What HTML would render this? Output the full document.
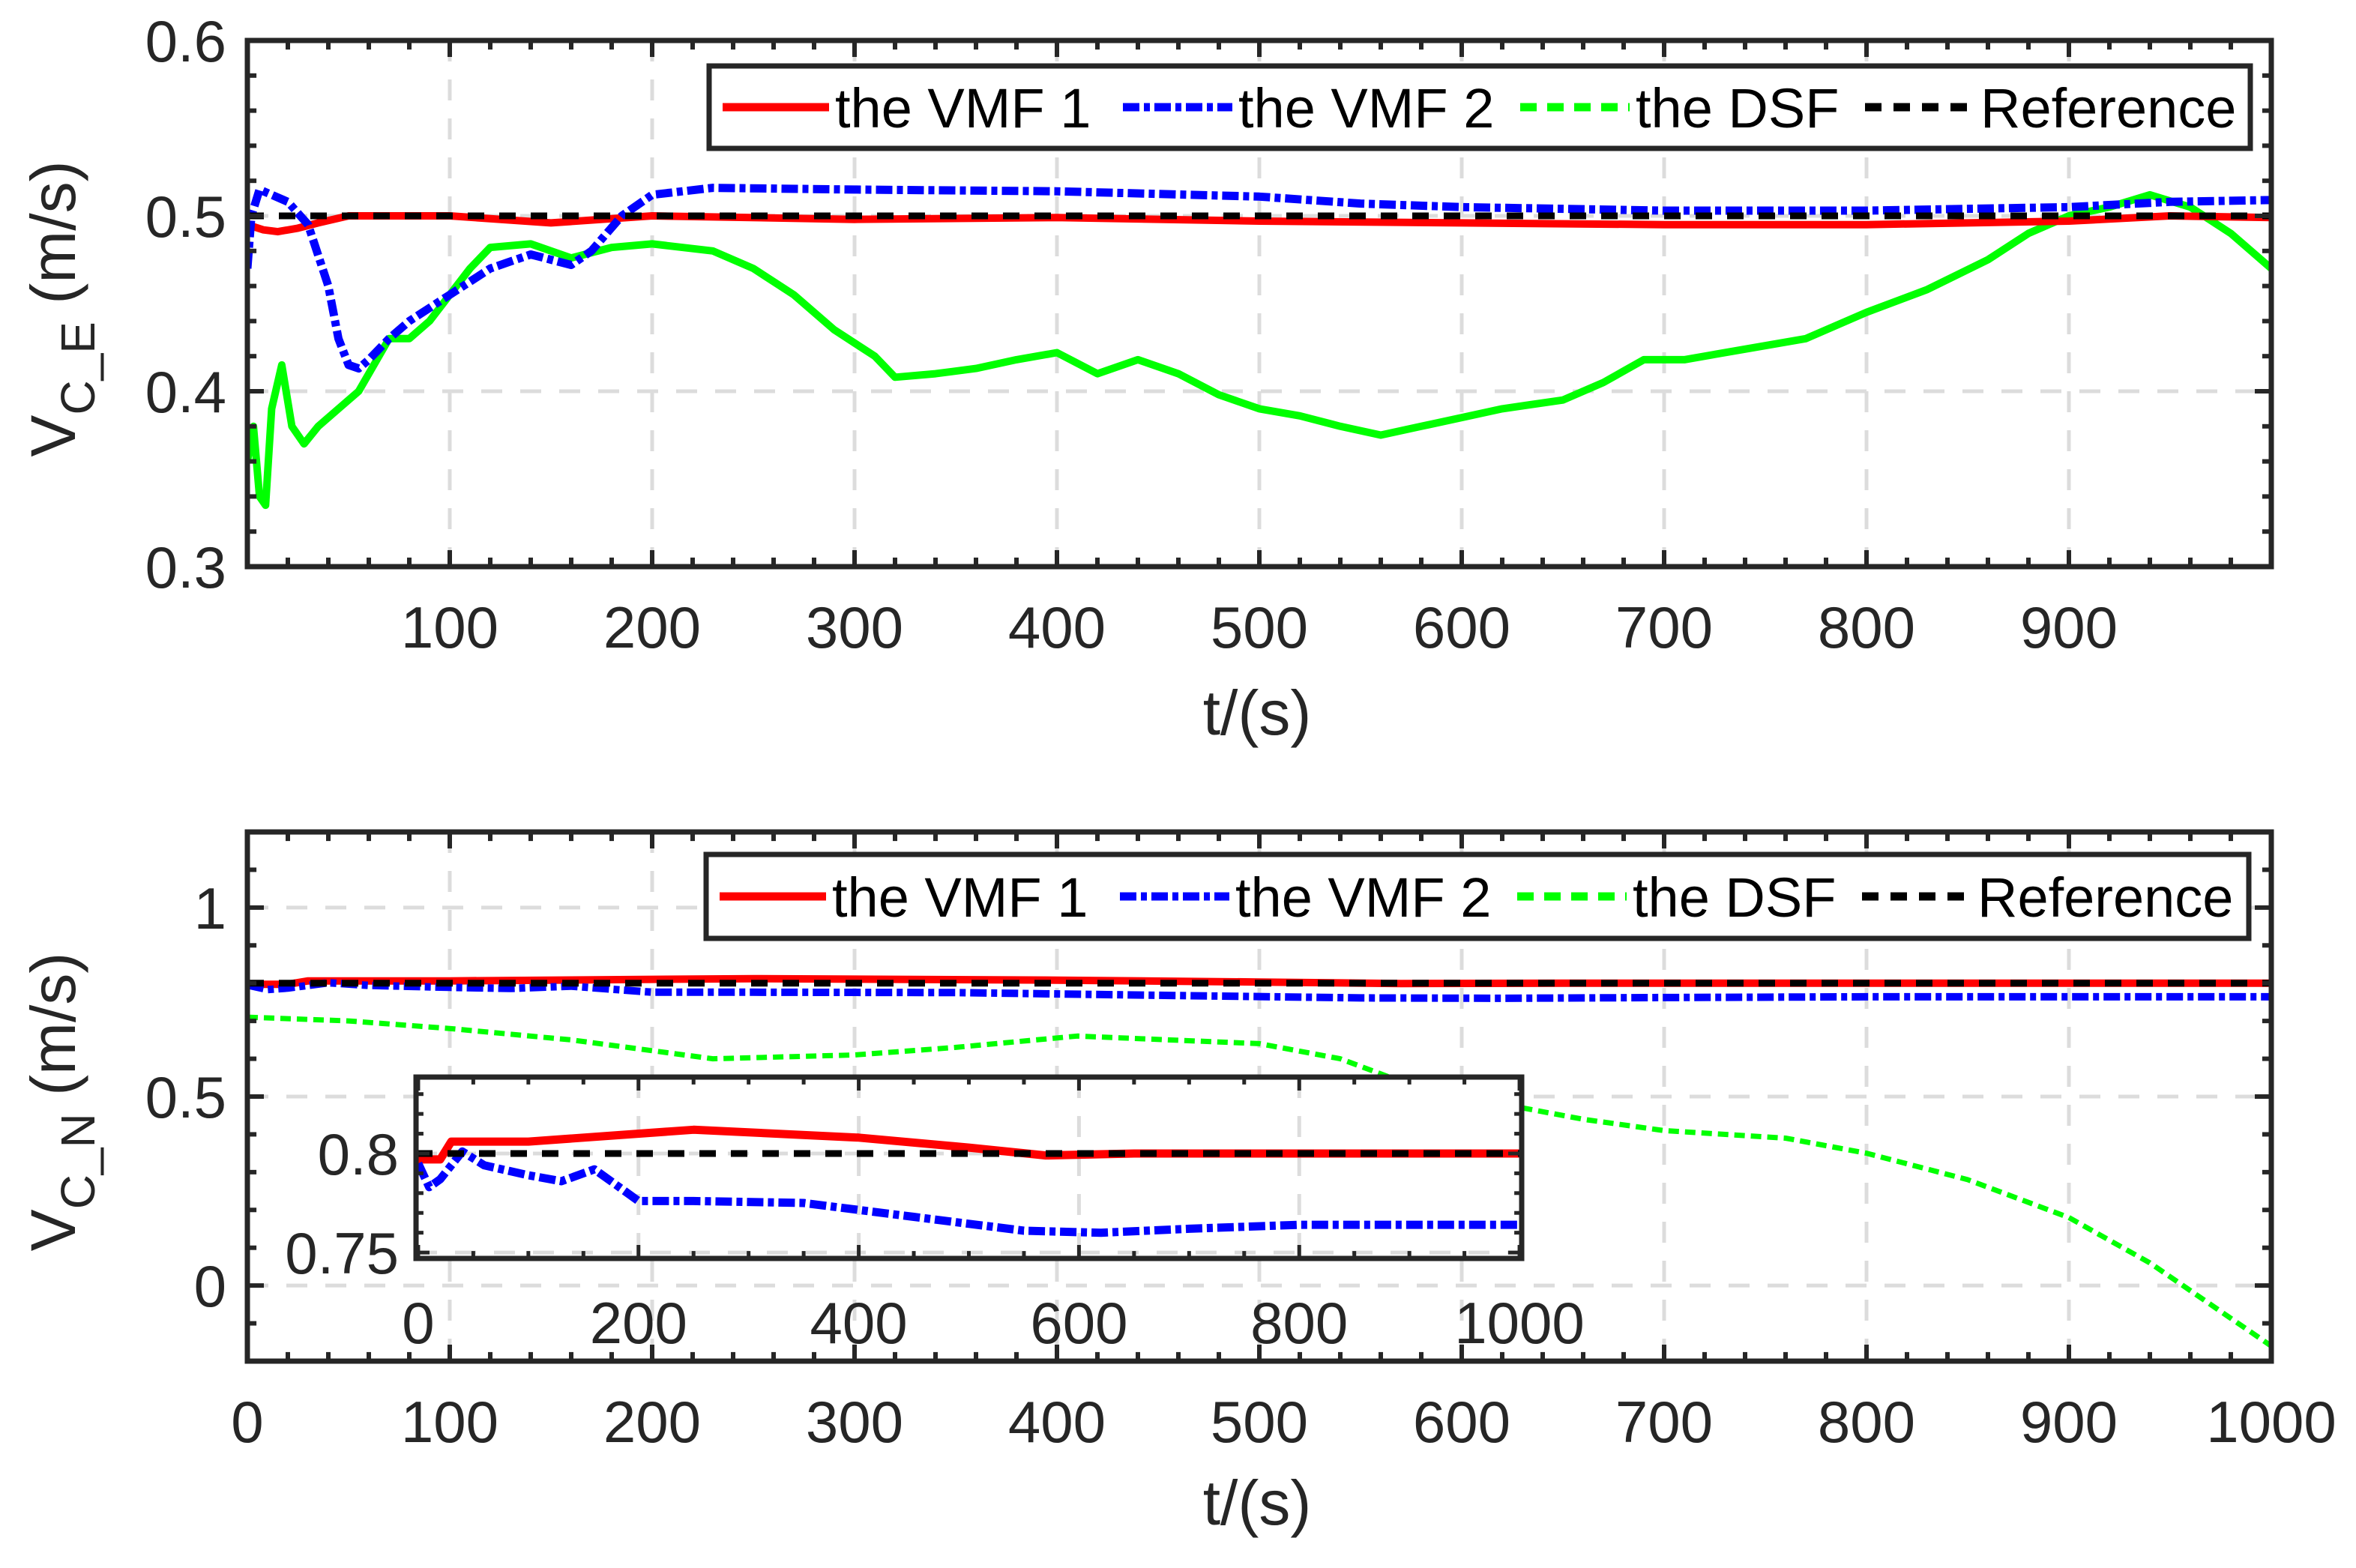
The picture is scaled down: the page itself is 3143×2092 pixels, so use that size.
<!DOCTYPE html>
<html><head><meta charset="utf-8"><style>
html,body{margin:0;padding:0;background:#fff;}
svg{display:block;font-family:"Liberation Sans",Arial,sans-serif;}
</style></head><body>
<svg id="fig" width="3143" height="2092" viewBox="0 0 3143 2092" xmlns="http://www.w3.org/2000/svg">
<rect x="0" y="0" width="3143" height="2092" fill="#fff"/>
</svg>
<script>
// ---------- data: top panel (V_C_E) ----------
const tTopRed=[0,8,15,25,35,50,100,150,200,300,400,500,600,700,800,900,950,1000];
const vTopRed=[0.495,0.492,0.491,0.493,0.496,0.5,0.5,0.496,0.5,0.498,0.499,0.497,0.496,0.495,0.495,0.497,0.5,0.499];
const tTopBlue=[0,2,6,12,20,30,40,45,50,55,60,70,80,100,120,140,150,160,170,185,200,230,300,400,500,550,600,700,800,900,950,1000];
const vTopBlue=[0.47,0.50,0.515,0.512,0.508,0.495,0.46,0.43,0.415,0.413,0.418,0.43,0.44,0.455,0.47,0.478,0.475,0.472,0.48,0.5,0.512,0.516,0.515,0.514,0.511,0.507,0.505,0.503,0.503,0.505,0.508,0.509];
const tTopGreen=[0,3,6,9,12,17,22,28,35,45,55,60,70,80,90,100,110,120,140,160,180,200,230,250,270,290,310,320,340,360,380,400,420,440,460,480,500,520,540,560,580,600,620,650,670,690,710,740,770,800,830,860,880,900,920,940,960,980,1000];
const vTopGreen=[0.36,0.38,0.34,0.335,0.39,0.415,0.38,0.37,0.38,0.39,0.40,0.41,0.43,0.43,0.44,0.455,0.47,0.482,0.484,0.476,0.482,0.484,0.48,0.47,0.455,0.435,0.42,0.408,0.41,0.413,0.418,0.422,0.41,0.418,0.41,0.398,0.39,0.386,0.38,0.375,0.38,0.385,0.39,0.395,0.405,0.418,0.418,0.424,0.43,0.445,0.458,0.475,0.49,0.5,0.505,0.512,0.505,0.49,0.47];
const refTop=0.5;
// ---------- data: bottom panel (V_C_N) ----------
const tBotRed=[0,20,30,50,100,250,400,500,570,650,1000];
const vBotRed=[0.797,0.797,0.806,0.806,0.806,0.812,0.808,0.803,0.799,0.8,0.8];
const tBotBlue=[0,10,20,40,60,100,130,160,180,200,250,350,450,550,620,700,800,1000];
const vBotBlue=[0.795,0.783,0.787,0.801,0.794,0.789,0.786,0.792,0.784,0.776,0.776,0.775,0.768,0.761,0.76,0.762,0.764,0.764];
const tBotGreen=[0,50,100,160,230,300,350,410,500,540,580,620,660,700,760,800,850,900,940,970,1000];
const vBotGreen=[0.71,0.70,0.68,0.65,0.60,0.61,0.63,0.66,0.64,0.60,0.52,0.48,0.44,0.41,0.39,0.35,0.28,0.18,0.06,-0.05,-0.16];
const refBot=0.8;
// ---------- ticks ----------
const topXTicks=[100,200,300,400,500,600,700,800,900];
const topYTicks=[0.3,0.4,0.5,0.6];
const botXTicks=[0,100,200,300,400,500,600,700,800,900,1000];
const botYTicks=[0,0.5,1];
const insetXTicks=[0,200,400,600,800,1000];
const insetYTicks=[0.75,0.8];
const legendLabels=["the VMF 1","the VMF 2","the DSF","Reference"];

const NS="http://www.w3.org/2000/svg";
const svg=document.getElementById('fig');
function mk(tag,attrs,parent){const e=document.createElementNS(NS,tag);for(const k in attrs)e.setAttribute(k,attrs[k]);(parent||svg).appendChild(e);return e;}
const AX="#262626",GRID="#dcdcdc";
const RED="#ff0000",BLUE="#0000ff",GREEN="#00ff00",BLACK="#000000";

function makeAxes(o){
  const sx=v=>o.x0+(v-o.xmin)/(o.xmax-o.xmin)*(o.x1-o.x0);
  const sy=v=>o.y1-(v-o.ymin)/(o.ymax-o.ymin)*(o.y1-o.y0);
  o.sx=sx;o.sy=sy;
  const g=mk('g',{});
  
  
  mk('rect',{x:o.x0,y:o.y0,width:o.x1-o.x0,height:o.y1-o.y0,fill:'#fff'},g);
  o.gridX.forEach(v=>{const l=mk('line',{x1:sx(v),x2:sx(v),y1:o.y0,y2:o.y1,stroke:GRID,'stroke-width':o.gw,'stroke-dasharray':o.gdash},g);
    });
  o.gridY.forEach(v=>{const l=mk('line',{x1:o.x0,x2:o.x1,y1:sy(v),y2:sy(v),stroke:GRID,'stroke-width':o.gw,'stroke-dasharray':o.gdash},g);
    });
  const cp=mk('clipPath',{id:o.name+'-clip'},g);
  mk('rect',{x:o.x0,y:o.y0,width:o.x1-o.x0,height:o.y1-o.y0},cp);
  o.plot=mk('g',{'clip-path':'url(#'+o.name+'-clip)'},g);
  o.g=g;
  return o;
}
function finishAxes(o){
  const g=o.g,sx=o.sx,sy=o.sy;
  const tk=mk('g',{stroke:AX,'stroke-width':o.tw},g);
  
  
  for(let v=o.xminTickStart;v<=o.xmax+1e-9;v+=o.xminor){
    const major=Math.abs(v/o.xmajor-Math.round(v/o.xmajor))<1e-6;const L=major?o.tl:o.tl*0.55;
    mk('line',{x1:sx(v),x2:sx(v),y1:o.y1,y2:o.y1-L},tk);mk('line',{x1:sx(v),x2:sx(v),y1:o.y0,y2:o.y0+L},tk);
  }
  for(let v=o.yminTickStart;v<=o.ymax+1e-9;v+=o.yminor){
    const major=Math.abs(v/o.ymajor-Math.round(v/o.ymajor))<1e-6;const L=major?o.tl:o.tl*0.55;
    mk('line',{x1:o.x0,x2:o.x0+L,y1:sy(v),y2:sy(v)},tk);mk('line',{x1:o.x1,x2:o.x1-L,y1:sy(v),y2:sy(v)},tk);
  }
  const fr=mk('rect',{x:o.x0,y:o.y0,width:o.x1-o.x0,height:o.y1-o.y0,fill:'none',stroke:AX,'stroke-width':o.fw},g);
  
  
  o.xTicks.forEach(v=>{const t=mk('text',{x:sx(v),y:o.xLabelY,'font-size':o.fs,'text-anchor':'middle',fill:AX},g);t.textContent=String(v);
    });
  o.yTicks.forEach(v=>{const t=mk('text',{x:o.yLabelX,y:sy(v)+o.fs*0.36,'font-size':o.fs,'text-anchor':'end',fill:AX},g);t.textContent=String(v);
    });
}
function series(o,ts,vs,color,w,dash,name){
  const d=ts.map((t,i)=>(i?'L':'M')+o.sx(t).toFixed(1)+' '+o.sy(vs[i]).toFixed(1)).join(' ');
  const p=mk('path',{d:d,fill:'none',stroke:color,'stroke-width':w,'stroke-linejoin':'round','stroke-dasharray':dash||'none'},o.plot);
  
  
}
function refLine(o,v,w,name){
  const p=mk('line',{x1:o.x0,x2:o.x1,y1:o.sy(v),y2:o.sy(v),stroke:BLACK,'stroke-width':w,'stroke-dasharray':'22 20'},o.plot);
  
  
}
function legend(x,y,w,h,name){
  const g=mk('g',{});
  
  
  mk('rect',{x:x,y:y,width:w,height:h,fill:'#fff',stroke:AX,'stroke-width':7},g);
  const cy=y+h/2;
  const items=[[RED,'none',x+18,x+160],[BLUE,'22 6 8 6',x+552,x+698],[GREEN,'22 14',x+1082,x+1228],[BLACK,'22 16',x+1542,x+1688]];
  items.forEach((it,i)=>{
    const e=mk('g',{},g);
    
    
    mk('line',{x1:it[2],x2:it[3],y1:cy,y2:cy,stroke:it[0],'stroke-width':11,'stroke-dasharray':it[1]},e);
    const t=mk('text',{x:it[3]+8,y:cy+27,'font-size':74,fill:'#000'},e);t.textContent=legendLabels[i];
  });
}
// ---------- top panel ----------
const axTop=makeAxes({name:'top-axes',x0:330,x1:3030,y0:54,y1:756,xmin:0,xmax:1000,ymin:0.3,ymax:0.6,
  gridX:topXTicks,gridY:[0.4,0.5],gw:5,gdash:'28 24'});
series(axTop,tTopGreen,vTopGreen,GREEN,10,'none','dsf-line-top');
series(axTop,tTopRed,vTopRed,RED,10,'none','vmf1-line-top');
series(axTop,tTopBlue,vTopBlue,BLUE,11,'22 6 8 6','vmf2-line-top');
refLine(axTop,refTop,9,'reference-line-top');
Object.assign(axTop,{xminTickStart:0,xminor:20,xmajor:100,yminTickStart:0.3,yminor:0.02,ymajor:0.1,tl:22,tw:6,fw:7,
  xTicks:topXTicks,yTicks:topYTicks,xLabelY:864,yLabelX:302,fs:78});
finishAxes(axTop);
legend(946,88,2056,110,'legend-top');
// ---------- bottom panel ----------
const axBot=makeAxes({name:'bottom-axes',x0:330,x1:3030,y0:1110,y1:1816,xmin:0,xmax:1000,ymin:-0.2,ymax:1.2,
  gridX:[100,200,300,400,500,600,700,800,900],gridY:[0,0.5,1],gw:5,gdash:'28 24'});
series(axBot,tBotGreen,vBotGreen,GREEN,7,'14 8','dsf-line-bottom');
series(axBot,tBotRed,vBotRed,RED,10,'none','vmf1-line-bottom');
series(axBot,tBotBlue,vBotBlue,BLUE,10,'22 6 8 6','vmf2-line-bottom');
refLine(axBot,refBot,9,'reference-line-bottom');
Object.assign(axBot,{xminTickStart:0,xminor:20,xmajor:100,yminTickStart:-0.2,yminor:0.1,ymajor:0.5,tl:22,tw:6,fw:7,
  xTicks:botXTicks,yTicks:botYTicks,xLabelY:1924,yLabelX:302,fs:78});
finishAxes(axBot);
legend(942,1140,2058,112,'legend-bottom');
// ---------- inset ----------
const axIns=makeAxes({name:'inset-axes',x0:555,x1:2030,y0:1437,y1:1679,xmin:-2,xmax:1002,ymin:0.747,ymax:0.8386,
  gridX:[200,400,600,800],gridY:[0.75,0.8],gw:5,gdash:'28 24'});
series(axIns,tBotRed,vBotRed,RED,11,'none','vmf1-line-inset');
series(axIns,tBotBlue,vBotBlue,BLUE,11,'22 6 8 6','vmf2-line-inset');
refLine(axIns,refBot,9,'reference-line-inset');
Object.assign(axIns,{xminTickStart:0,xminor:50,xmajor:200,yminTickStart:0.75,yminor:0.01,ymajor:0.05,tl:18,tw:5,fw:7,
  xTicks:insetXTicks,yTicks:insetYTicks,xLabelY:1792,yLabelX:532,fs:78});
finishAxes(axIns);
// ---------- axis titles ----------
function title(txt,x,y,name){const t=mk('text',{x:x,y:y,'font-size':84,'text-anchor':'middle',fill:AX});t.textContent=txt;
  }
title('t/(s)',1677,980,'x-axis-title-top');
title('t/(s)',1677,2034,'x-axis-title-bottom');
function ytitle(sub,cy,name){
  const t=mk('text',{transform:'translate(100,'+cy+') rotate(-90)','font-size':84,'text-anchor':'middle',fill:AX});
  
  const a=mk('tspan',{},t);a.textContent='V';
  const b=mk('tspan',{dy:26,'font-size':64},t);b.textContent=sub;
  const c=mk('tspan',{dy:-26},t);c.textContent=' (m/s)';
}
ytitle('C_E',412,'y-axis-title-top');
ytitle('C_N',1470,'y-axis-title-bottom');
</script>
</body></html>
